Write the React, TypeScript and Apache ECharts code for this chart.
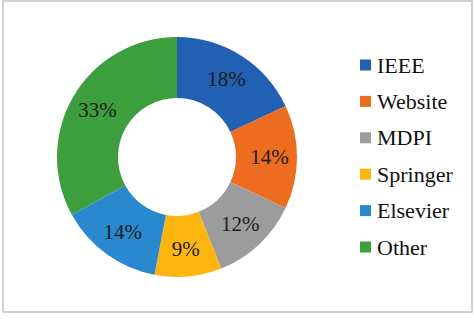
import React, { useEffect, useRef } from "react";
import * as echarts from "echarts";

const categories = ["IEEE", "Website", "MDPI", "Springer", "Elsevier", "Other"];
const values = [18, 14, 12, 9, 14, 33];
const colors = ["#2160B3", "#ED6C1F", "#9C9C9C", "#FDB50F", "#2A88CF", "#3D9E3D"];

const FONT = "'Liberation Serif', 'DejaVu Serif', serif";

export default function App() {
  const ref = useRef<HTMLDivElement>(null);
  useEffect(() => {
    document.body.style.margin = "0";
    const chart = echarts.init(ref.current!, null, { renderer: "svg" });
    const data = categories.map((name, i) => ({
      name,
      value: values[i],
      itemStyle: { color: colors[i] },
    }));
    const legendTop = 65;
    const legendStep = 36.4;
    const legendItems: any[] = [];
    categories.forEach((name, i) => {
      const cy = legendTop + i * legendStep;
      legendItems.push({
        type: "rect",
        shape: { x: 360, y: cy - 5.5, width: 11, height: 11 },
        style: { fill: colors[i] },
        silent: true,
      });
      legendItems.push({
        type: "text",
        x: 377,
        y: cy,
        style: {
          text: name,
          fontFamily: FONT,
          fontSize: 22,
          fill: "#111111",
          verticalAlign: "middle",
          align: "left",
        },
        silent: true,
      });
    });
    chart.setOption({
      animation: false,
      backgroundColor: "#ffffff",
      textStyle: { fontFamily: FONT },
      graphic: [
        {
          type: "rect",
          shape: { x: 3, y: 1, width: 469, height: 311 },
          style: { fill: "none", stroke: "#c2c2c2", lineWidth: 1.5 },
          silent: true,
        },
        ...legendItems,
      ],
      series: [
        {
          type: "pie",
          center: [177, 157],
          radius: [59, 120],
          startAngle: 90,
          clockwise: true,
          data,
          label: {
            show: true,
            position: "inside",
            formatter: "{c}%",
            fontFamily: FONT,
            fontSize: 21,
            color: "#1c1c1c",
          },
          labelLine: { show: false },
          emphasis: { disabled: true },
        },
      ],
    });
    return () => chart.dispose();
  }, []);
  return <div ref={ref} style={{ width: 474, height: 331 }} />;
}
